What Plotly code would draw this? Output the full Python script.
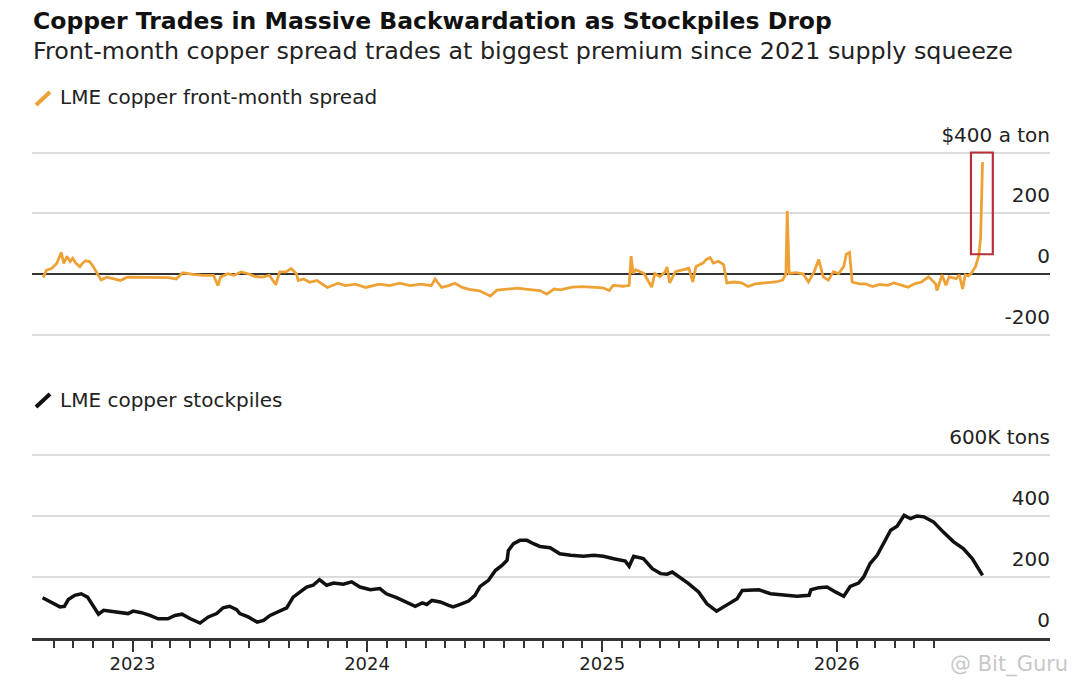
import plotly.graph_objects as go
import pandas as pd

# LME copper front-month spread ($ a ton)
spread_dates = [
    "2022-08-15", "2022-08-20", "2022-08-28", "2022-09-05", "2022-09-12", "2022-09-16",
    "2022-09-21", "2022-09-26", "2022-09-30", "2022-10-05", "2022-10-11", "2022-10-15",
    "2022-10-20", "2022-10-26", "2022-11-01", "2022-11-06", "2022-11-13", "2022-11-22",
    "2022-12-03", "2022-12-13", "2022-12-24", "2023-01-09", "2023-01-25", "2023-02-10",
    "2023-02-26", "2023-03-10", "2023-03-20", "2023-04-05", "2023-04-21", "2023-05-07",
    "2023-05-14", "2023-05-18", "2023-05-29", "2023-06-08", "2023-06-19", "2023-06-30",
    "2023-07-11", "2023-07-22", "2023-08-02", "2023-08-12", "2023-08-18", "2023-08-28",
    "2023-09-05", "2023-09-13", "2023-09-16", "2023-09-24", "2023-10-04", "2023-10-15",
    "2023-10-31", "2023-11-17", "2023-11-28", "2023-12-14", "2023-12-30", "2024-01-20",
    "2024-02-05", "2024-02-21", "2024-03-08", "2024-03-25", "2024-04-10", "2024-04-16",
    "2024-04-26", "2024-05-07", "2024-05-17", "2024-05-28", "2024-06-08", "2024-06-24",
    "2024-07-11", "2024-07-21", "2024-08-06", "2024-08-22", "2024-09-07", "2024-09-26",
    "2024-10-07", "2024-10-18", "2024-10-28", "2024-11-15", "2024-12-01", "2024-12-17",
    "2025-01-02", "2025-01-12", "2025-01-18", "2025-02-03", "2025-02-12", "2025-02-15",
    "2025-02-18", "2025-02-22", "2025-03-02", "2025-03-07", "2025-03-19", "2025-03-24",
    "2025-04-01", "2025-04-09", "2025-04-12", "2025-04-16", "2025-04-25", "2025-05-06",
    "2025-05-16", "2025-05-22", "2025-05-27", "2025-06-07", "2025-06-12", "2025-06-18",
    "2025-06-23", "2025-07-01", "2025-07-09", "2025-07-14", "2025-07-26", "2025-08-06",
    "2025-08-16", "2025-08-27", "2025-09-12", "2025-09-28", "2025-10-09", "2025-10-14",
    "2025-10-16", "2025-10-19", "2025-10-30", "2025-11-10", "2025-11-18", "2025-11-27",
    "2025-12-04", "2025-12-11", "2025-12-19", "2025-12-27", "2026-01-04", "2026-01-12",
    "2026-01-16", "2026-01-21", "2026-01-25", "2026-02-05", "2026-02-15", "2026-02-26",
    "2026-03-09", "2026-03-21", "2026-03-31", "2026-04-11", "2026-04-22", "2026-05-02",
    "2026-05-13", "2026-05-24", "2026-06-04", "2026-06-06", "2026-06-14", "2026-06-20",
    "2026-06-25", "2026-07-06", "2026-07-11", "2026-07-16", "2026-07-20", "2026-07-25",
    "2026-07-30", "2026-08-05", "2026-08-10", "2026-08-13", "2026-08-14", "2026-08-16",
]
spread_values = [
    -10, 14, 19, 36, 72, 36,
    59, 42, 53, 36, 25, 36,
    45, 42, 25, 8, -18, -9,
    -15, -20, -9, -9, -11, -9,
    -11, -15, 5, 0, -3, -3,
    -37, -9, 2, -3, 8, 2,
    -7, -9, -3, -34, 8, 8,
    19, 2, -20, -15, -26, -20,
    -43, -29, -37, -32, -43, -32,
    -37, -29, -37, -32, -37, -15,
    -43, -37, -29, -43, -49, -54,
    -71, -52, -49, -45, -49, -53,
    -65, -48, -51, -42, -40, -42,
    -44, -53, -36, -39, -36, 60,
    3, 15, 9, 3, -42, 3,
    -8, 9, 24, -28, 9, 15,
    20, -25, 26, 37, 49, 55,
    37, 43, 32, -28, -25, -28,
    -40, -31, -28, -25, -19, 3,
    208, 3, 6, 1, -25, 9,
    49, -8, -19, 9, 3, 26,
    66, 72, -25, -31, -31, -40,
    -33, -36, -28, -36, -42, -31,
    -25, -8, -31, -53, -2, -36,
    -8, -14, -2, -48, -2, -5,
    5, 25, 60, 120, 250, 369,
]

# LME copper stockpiles (thousand tons)
stock_dates = [
    "2022-08-14", "2022-08-25", "2022-09-02", "2022-09-10", "2022-09-17", "2022-09-23",
    "2022-10-03", "2022-10-13", "2022-10-23", "2022-11-01", "2022-11-09", "2022-11-17",
    "2022-11-30", "2022-12-12", "2022-12-25", "2023-01-02", "2023-01-15", "2023-01-28",
    "2023-02-10", "2023-02-25", "2023-03-08", "2023-03-19", "2023-04-01", "2023-04-16",
    "2023-04-29", "2023-05-12", "2023-05-22", "2023-06-01", "2023-06-12", "2023-06-17",
    "2023-06-30", "2023-07-14", "2023-07-24", "2023-08-03", "2023-08-16", "2023-08-29",
    "2023-09-08", "2023-09-18", "2023-09-29", "2023-10-09", "2023-10-19", "2023-10-30",
    "2023-11-10", "2023-11-25", "2023-12-08", "2023-12-21", "2024-01-06", "2024-01-21",
    "2024-01-31", "2024-02-16", "2024-03-02", "2024-03-16", "2024-03-27", "2024-04-03",
    "2024-04-11", "2024-04-24", "2024-05-07", "2024-05-14", "2024-05-25", "2024-06-07",
    "2024-06-17", "2024-06-25", "2024-07-08", "2024-07-19", "2024-07-29", "2024-08-06",
    "2024-08-08", "2024-08-16", "2024-08-26", "2024-09-06", "2024-09-16", "2024-09-26",
    "2024-10-12", "2024-10-27", "2024-11-13", "2024-12-03", "2024-12-19", "2025-01-03",
    "2025-01-19", "2025-02-06", "2025-02-12", "2025-02-19", "2025-03-06", "2025-03-20",
    "2025-04-02", "2025-04-12", "2025-04-20", "2025-05-03", "2025-05-15", "2025-05-31",
    "2025-06-13", "2025-06-28", "2025-07-09", "2025-07-20", "2025-07-30", "2025-08-07",
    "2025-08-20", "2025-09-02", "2025-09-20", "2025-10-10", "2025-10-31", "2025-11-19",
    "2025-11-22", "2025-12-04", "2025-12-17", "2025-12-30", "2026-01-12", "2026-01-22",
    "2026-02-04", "2026-02-12", "2026-02-22", "2026-03-05", "2026-03-15", "2026-03-26",
    "2026-04-05", "2026-04-16", "2026-04-26", "2026-05-06", "2026-05-17", "2026-06-01",
    "2026-06-16", "2026-07-02", "2026-07-17", "2026-07-31", "2026-08-16",
]
stock_values = [
    131, 120, 111, 101, 103, 125,
    139, 144, 133, 101, 77, 90,
    87, 82, 79, 87, 82, 73,
    62, 62, 73, 77, 62, 48,
    68, 79, 98, 103, 92, 79,
    68, 51, 57, 73, 87, 98,
    133, 150, 166, 172, 190, 172,
    179, 175, 183, 166, 157, 161,
    144, 131, 117, 103, 114, 109,
    122, 117, 106, 101, 109, 120,
    139, 168, 188, 221, 237, 254,
    286, 308, 319, 319, 308, 299,
    295, 275, 270, 267, 270, 267,
    259, 251, 234, 267, 259, 226,
    210, 208, 215, 197, 178, 150,
    111, 87, 101, 117, 128, 155,
    155, 157, 144, 139, 136, 139,
    157, 164, 166, 150, 136, 168,
    179, 199, 243, 270, 308, 352,
    365, 401, 390, 399, 396, 379,
    346, 314, 292, 259, 204,
]

year_ticks = ["2023-01-01", "2024-01-01", "2025-01-01", "2026-01-01"]
year_labels = ["2023", "2024", "2025", "2026"]
spread_ticks = [-200, 0, 200, 400]
spread_labels = ["-200", "0", "200", "$400 a ton"]
stock_ticks = [0, 200, 400, 600]
stock_labels = ["0", "200", "400", "600K tons"]

# highlighted window around the latest spike
box_start, box_end = "2026-07-29", "2026-09-01"
box_low, box_high = 66, 400

# the page body adds an 8px margin, so the figure is drawn 8px smaller
OFF = 8
W, H = 1079 - OFF, 691 - OFF
FONT = "DejaVu Sans"
ORANGE = "#eea236"
GRID = "#dcdcdc"
x_range = ["2022-07-29", "2026-11-29"]


def px(x):
    return (x - OFF) / W


def py(y):
    return 1 - (y - OFF) / H


x_dom = [px(32.3), px(1050)]

fig = go.Figure()

fig.add_trace(go.Scatter(x=spread_dates, y=spread_values, mode="lines",
                         line=dict(color=ORANGE, width=2.8),
                         xaxis="x", yaxis="y", showlegend=False))
fig.add_trace(go.Scatter(x=stock_dates, y=stock_values, mode="lines",
                         line=dict(color="#111111", width=3.5),
                         xaxis="x2", yaxis="y2", showlegend=False))

fig.add_shape(type="rect", xref="x", yref="y",
              x0=box_start, x1=box_end, y0=box_low, y1=box_high,
              line=dict(color="#b5303a", width=2.2), fillcolor="rgba(0,0,0,0)")

# legend marks
fig.add_shape(type="line", xref="paper", yref="paper",
              x0=px(36), x1=px(50), y0=py(105), y1=py(92),
              line=dict(color=ORANGE, width=4))
fig.add_shape(type="line", xref="paper", yref="paper",
              x0=px(36), x1=px(50), y0=py(407), y1=py(394),
              line=dict(color="#111111", width=4))

ytick_font = dict(size=20, color="#222222")

fig.update_layout(
    width=W, height=H,
    margin=dict(l=0, r=0, t=0, b=0),
    paper_bgcolor="white", plot_bgcolor="white",
    font=dict(family=FONT, color="#222222", size=18),
    xaxis=dict(domain=x_dom, range=x_range, type="date", anchor="y",
               showgrid=False, showticklabels=False, ticks="", zeroline=False),
    xaxis2=dict(domain=x_dom, range=x_range, type="date", anchor="y2", matches="x",
                showgrid=False, zeroline=False,
                tickvals=year_ticks, ticktext=year_labels,
                ticks="outside", ticklen=11, tickwidth=2, tickcolor="#333333",
                ticklabelstandoff=-3,
                showline=True, linewidth=3, linecolor="#333333",
                tickfont=dict(size=18, color="#222222"),
                minor=dict(tickvals=pd.date_range("2022-09-01", "2026-08-01", freq="MS"),
                           ticks="outside", ticklen=7, tickwidth=1.5,
                           tickcolor="#333333", showgrid=False)),
    yaxis=dict(domain=[py(341.4), py(112.9)], range=[-220, 530], anchor="x", side="right",
               tickvals=spread_ticks, ticktext=spread_labels,
               ticklabelposition="inside top", ticklabelshift=-4, ticklabelstandoff=-3,
               ticks="",
               showgrid=True, gridcolor=GRID, gridwidth=1.5,
               zeroline=True, zerolinecolor="#333333", zerolinewidth=2,
               tickfont=ytick_font),
    yaxis2=dict(domain=[py(637.7), py(424.1)], range=[0, 700], anchor="x2", side="right",
                tickvals=stock_ticks, ticktext=stock_labels,
                ticklabelposition="inside top", ticklabelshift=-4, ticklabelstandoff=-3,
                ticks="",
                showgrid=True, gridcolor=GRID, gridwidth=1.5, zeroline=False,
                tickfont=ytick_font),
    annotations=[
        dict(text="<b>Copper Trades in Massive Backwardation as Stockpiles Drop</b>",
             xref="paper", yref="paper", x=px(31), y=py(21), xanchor="left", yanchor="middle",
             showarrow=False, font=dict(size=23.5, color="#111111")),
        dict(text="Front-month copper spread trades at biggest premium since 2021 supply squeeze",
             xref="paper", yref="paper", x=px(31), y=py(51), xanchor="left", yanchor="middle",
             showarrow=False, font=dict(size=23.8, color="#222222")),
        dict(text="LME copper front-month spread",
             xref="paper", yref="paper", x=px(58), y=py(97), xanchor="left", yanchor="middle",
             showarrow=False, font=dict(size=20, color="#222222")),
        dict(text="LME copper stockpiles",
             xref="paper", yref="paper", x=px(58), y=py(400), xanchor="left", yanchor="middle",
             showarrow=False, font=dict(size=20, color="#222222")),
        dict(text="@ Bit_Guru",
             xref="paper", yref="paper", x=px(948), y=py(664), xanchor="left", yanchor="middle",
             showarrow=False, font=dict(size=21, color="#c8c8c8")),
    ],
)

fig.write_html("out.html")
